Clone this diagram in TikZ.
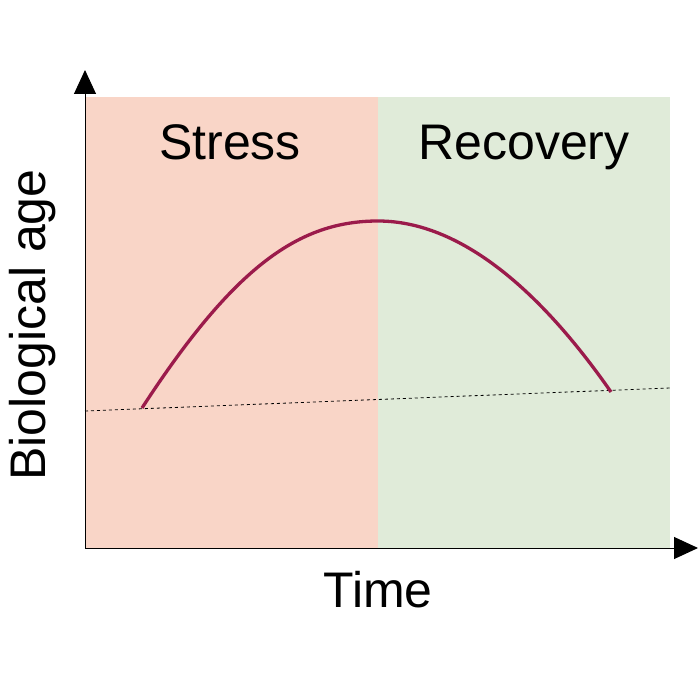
\documentclass[tikz,border=0pt]{standalone}
\usepackage{fontspec}
\setmainfont{Liberation Sans}
\usetikzlibrary{arrows.meta}
\begin{document}
\begin{tikzpicture}[x=1pt,y=-1pt,
  lbl/.style={font=\fontsize{50}{54}\selectfont,inner sep=0,anchor=base},
  axis/.style={line width=1pt,-{Triangle[width=22pt,length=24pt]}}]
\useasboundingbox (0,0) rectangle (700,700);
\definecolor{pinkbg}{HTML}{F9D5C7}
\definecolor{greenbg}{HTML}{E0EBD9}
\definecolor{curvec}{HTML}{9B1B4B}
\fill[pinkbg] (85,97) rectangle (378,548);
\fill[greenbg] (378,97) rectangle (670,548);
\coordinate (o) at (85,548);
\coordinate (ytip) at (85,70);
\coordinate (xtip) at (698,548);
\draw[axis] (o) -- (ytip);
\draw[axis] (o) -- (xtip);
\coordinate (d1) at (85,411);
\coordinate (d2) at (670,388);
\draw[dashed,line width=0.8pt] (d1) -- (d2);
\coordinate (c0) at (142,408);
\coordinate (cp) at (378,221);
\coordinate (c1) at (611,392);
\draw[curvec,line width=3.3pt] (c0) .. controls (235,265) and (300,221) .. (cp) .. controls (460,221) and (540,290) .. (c1);
\node[lbl] (s) at (230,160) {Stress};
\node[lbl] (r) at (524,160) {Recovery};
\node[lbl] (t) at (378,607) {Time};
\node[lbl,rotate=90] (b) at (45,325) {Biological age};
\end{tikzpicture}
\end{document}
